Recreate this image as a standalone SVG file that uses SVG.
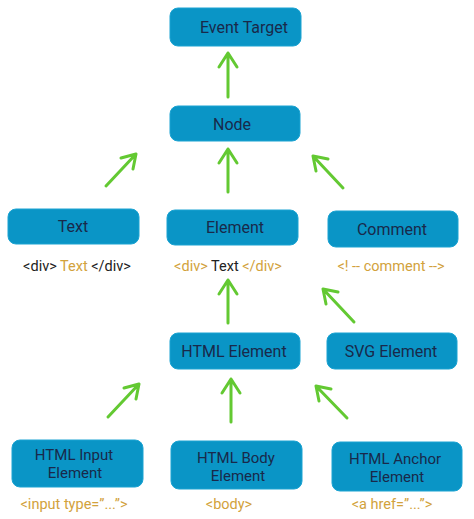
<svg xmlns="http://www.w3.org/2000/svg" width="474" height="519" viewBox="0 0 474 519">
<defs>
<style>
.box{fill:#0a95c6;stroke:#1aa3d2;stroke-width:1}
.bt{font-family:Roboto,"Liberation Sans",sans-serif;font-size:16px;fill:#19294a;text-anchor:middle}
.b2{font-size:15px}
.lb{font-family:Roboto,"Liberation Sans",sans-serif;font-size:14.5px;text-anchor:middle}
.or{fill:#d2a23c}
.dk{fill:#222222}
.ar{stroke:#63c932;stroke-width:3;fill:none;stroke-linecap:round;stroke-linejoin:round}
</style>
</defs>
<rect width="474" height="519" fill="#ffffff"/>
<g id="connectors">
<path class="ar" d="M228 97 L228 53 M219 67 L228 53 L237 67"/>
<path class="ar" d="M106 186 L136 154 M121 158 L136 154 L133 169"/>
<path class="ar" d="M228 192 L228 149 M219 163 L228 149 L237 163"/>
<path class="ar" d="M343 188 L313 156 M316 171 L313 156 L328 159"/>
<path class="ar" d="M228 323 L228 280 M219 294 L228 280 L237 294"/>
<path class="ar" d="M354 322 L323 289 M326 304 L323 289 L338 292"/>
<path class="ar" d="M108 417 L139 384 M124 388 L139 384 L136 399"/>
<path class="ar" d="M231 422 L231 379 M222 393 L231 379 L240 393"/>
<path class="ar" d="M347 418 L316 386 M319 401 L316 386 L331 389"/>
</g>
<g id="event-target"><rect class="box" x="170" y="8" width="131" height="38" rx="8"/><text class="bt" x="244" y="33">Event Target</text></g>
<g id="node"><rect class="box" x="170" y="106" width="130" height="35" rx="8"/><text class="bt" x="232" y="130">Node</text></g>
<g id="text"><rect class="box" x="8" y="209" width="131" height="35" rx="8"/><text class="bt" x="73" y="232">Text</text><text class="lb" x="77" y="271"><tspan class="dk">&lt;div&gt; </tspan><tspan class="or">Text</tspan><tspan class="dk"> &lt;/div&gt;</tspan></text></g>
<g id="element"><rect class="box" x="167" y="210" width="131" height="35" rx="8"/><text class="bt" x="235" y="233">Element</text><text class="lb" x="228" y="271"><tspan class="or">&lt;div&gt; </tspan><tspan class="dk">Text</tspan><tspan class="or"> &lt;/div&gt;</tspan></text></g>
<g id="comment"><rect class="box" x="328" y="211" width="130" height="36" rx="8"/><text class="bt" x="392" y="235">Comment</text><text class="lb or" x="391" y="271">&lt;! -- comment --&gt;</text></g>
<g id="html-element"><rect class="box" x="170" y="333" width="130" height="36" rx="8"/><text class="bt" x="234" y="357">HTML Element</text></g>
<g id="svg-element"><rect class="box" x="327" y="333" width="130" height="36" rx="8"/><text class="bt" x="391" y="357">SVG Element</text></g>
<g id="html-input-element"><rect class="box" x="12" y="440" width="131" height="47" rx="8"/><text class="bt b2" x="74" y="460">HTML Input</text><text class="bt b2" x="75" y="478">Element</text><text class="lb or" x="74" y="509">&lt;input type=”...”&gt;</text></g>
<g id="html-body-element"><rect class="box" x="171" y="441" width="131" height="48" rx="8"/><text class="bt b2" x="236" y="463">HTML Body</text><text class="bt b2" x="238" y="481">Element</text><text class="lb or" x="229" y="509">&lt;body&gt;</text></g>
<g id="html-anchor-element"><rect class="box" x="332" y="442" width="130" height="49" rx="8"/><text class="bt b2" x="395" y="464">HTML Anchor</text><text class="bt b2" x="397" y="482">Element</text><text class="lb or" x="392" y="509">&lt;a href=”...”&gt;</text></g>
</svg>
